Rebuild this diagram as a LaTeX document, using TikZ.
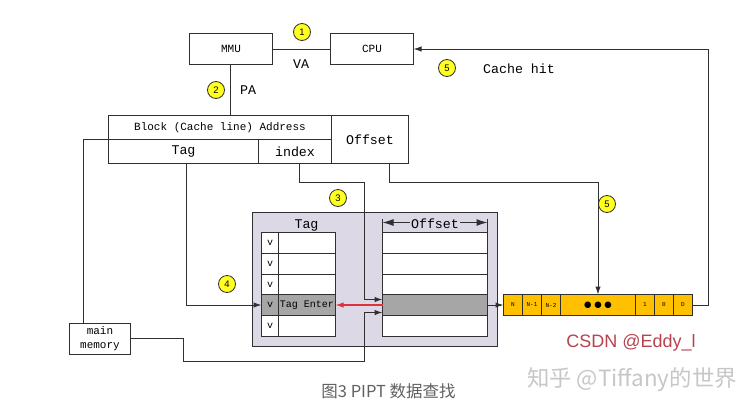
\documentclass[tikz,border=0pt]{standalone}
\usepackage{fontspec}
\setmainfont{Liberation Sans}
\setmonofont{Liberation Mono}
\newfontfamily\cjkfont{Noto Sans CJK SC}
\newfontfamily\dotsfont{DejaVu Sans}
\usetikzlibrary{arrows.meta}
\definecolor{linec}{HTML}{303030}
\definecolor{panelc}{HTML}{DCD8E6}
\definecolor{rowc}{HTML}{A6A6A6}
\definecolor{barc}{HTML}{FFC000}
\definecolor{yel}{HTML}{FFFF20}
\definecolor{redc}{HTML}{E0303A}
\definecolor{csdnc}{HTML}{B8434F}
\tikzset{
  rect/.style={draw=linec,line width=1pt,inner sep=0pt,outer sep=0pt,align=center,font=\ttfamily\fontsize{11}{13}\selectfont},
  cell/.style={rect,fill=white},
  big/.style={font=\ttfamily\fontsize{13.3}{15}\selectfont},
  small/.style={font=\ttfamily\fontsize{10}{12}\selectfont},
  tiny/.style={font=\ttfamily\fontsize{6}{6}\selectfont},
  conn/.style={draw=linec,line width=1pt},
  arr/.style={conn,-{Latex[length=8pt,width=5.5pt]}},
  num/.style={circle,draw=linec,line width=0.8pt,fill=yel,minimum size=17pt,inner sep=0pt,font=\fontsize{9.5}{10}\selectfont},
  lab/.style={inner sep=0pt,font=\ttfamily\fontsize{13.3}{15}\selectfont},
  barcell/.style={rect,fill=barc,tiny},
}
% name, x1, y1, x2, y2, style, text
\newcommand\rectnode[7]{%
  \pgfmathsetmacro\rw{#4-#2}\pgfmathsetmacro\rh{#5-#3}%
  \node[#6,minimum width=\rw pt,minimum height=\rh pt] (#1) at ({(#2+#4)/2},{(#3+#5)/2}) {#7};}
\begin{document}
\begin{tikzpicture}[x=1pt,y=-1pt]
\useasboundingbox (0,0) rectangle (756,413);
\fill[white] (0,0) rectangle (756,413);

% top boxes
\rectnode{mmu}{189.5}{33.5}{272.5}{64.5}{cell}{MMU}
\rectnode{cpu}{330.5}{33.5}{413.5}{64.5}{cell}{CPU}

% address
\rectnode{blk}{108.5}{115.5}{331.5}{139.5}{cell}{Block (Cache line) Address}
\rectnode{tagf}{108.5}{139.5}{258.5}{163.5}{cell,big}{Tag}
\rectnode{idx}{258.5}{139.5}{331.5}{163.5}{cell,big}{index}
\rectnode{off}{331.5}{115.5}{408.5}{163.5}{cell,big}{Offset}

% memory
\rectnode{mem}{69.5}{323.5}{130.5}{354.5}{cell}{main\\[1pt]memory}

% panel
\rectnode{panel}{252.5}{212.5}{497.5}{346.5}{rect,fill=panelc}{}
\node[lab] (tagtitle) at (306.5,225) {Tag};

\rectnode{v1}{261.5}{232.5}{278.5}{253.5}{cell,small}{v}
\rectnode{v2}{261.5}{253.5}{278.5}{274.5}{cell,small}{v}
\rectnode{v3}{261.5}{274.5}{278.5}{294.5}{cell,small}{v}
\rectnode{v4}{261.5}{294.5}{278.5}{315.5}{rect,small,fill=rowc}{v}
\rectnode{v5}{261.5}{315.5}{278.5}{336.5}{cell,small}{v}
\rectnode{t1}{278.5}{232.5}{335.5}{253.5}{cell,small}{}
\rectnode{t2}{278.5}{253.5}{335.5}{274.5}{cell,small}{}
\rectnode{t3}{278.5}{274.5}{335.5}{294.5}{cell,small}{}
\rectnode{t4}{278.5}{294.5}{335.5}{315.5}{rect,small,fill=rowc}{Tag Enter}
\rectnode{t5}{278.5}{315.5}{335.5}{336.5}{cell,small}{}

\rectnode{o1}{382.5}{232.5}{487.5}{253.5}{cell}{}
\rectnode{o2}{382.5}{253.5}{487.5}{274.5}{cell}{}
\rectnode{o3}{382.5}{274.5}{487.5}{294.5}{cell}{}
\rectnode{o4}{382.5}{294.5}{487.5}{315.5}{rect,fill=rowc}{}
\rectnode{o5}{382.5}{315.5}{487.5}{336.5}{cell}{}

% offset dimension
\coordinate (dl) at (382.5,222.5);
\coordinate (dr) at (487.5,222.5);
\draw[conn] (382.5,218.5) -- (o1.north west);
\draw[conn] (487.5,218.5) -- (o1.north east);
\draw[conn,{Latex[length=11pt,width=7pt]}-{Latex[length=11pt,width=7pt]}] (dl) -- (dr);
\node[lab,fill=panelc,inner xsep=1pt] (offtitle) at (435,224) {Offset};

% bar
\rectnode{b1}{503.5}{294.5}{522.5}{315.5}{barcell}{N}
\rectnode{b2}{522.5}{294.5}{541.5}{315.5}{barcell}{N-1}
\rectnode{b3}{541.5}{294.5}{560.5}{315.5}{barcell}{N-2}
\rectnode{b4}{560.5}{294.5}{635.5}{315.5}{rect,fill=barc,font=\dotsfont\fontsize{8.5}{9}\selectfont}{● ● ●}
\rectnode{b5}{635.5}{294.5}{654.5}{315.5}{barcell}{1}
\rectnode{b6}{654.5}{294.5}{673.5}{315.5}{barcell}{0}
\rectnode{b7}{673.5}{294.5}{692.5}{315.5}{barcell}{D}

% connectors
\draw[conn] (mmu.east) -- (cpu.west);
\coordinate (mmuout) at (230.5,115.5);
\draw[conn] (mmuout |- mmu.south) -- (mmuout);
\coordinate (memtap) at (83.5,323.5);
\draw[conn] (blk.south west) -| (memtap);
\coordinate (tagout) at (186.5,163.5);
\draw[arr] (tagout) |- (v4.west);
\coordinate (idxout) at (299.5,163.5);
\coordinate (idxb) at (299.5,182.5);
\coordinate (idxc) at (364.5,182.5);
\coordinate (idxin) at (382.5,299.5);
\draw[arr] (idxout) -- (idxb) -- (idxc) |- (idxin);
\coordinate (offout) at (389.5,163.5);
\coordinate (offb) at (389.5,182.5);
\draw[arr] (offout) -- (offb) -| (b4.north);
\draw[draw=redc,line width=1.2pt,{Latex[length=8pt,width=5.5pt]}-] (t4.east) -- (o4.west);
\draw[arr] (o4.east) -- (b1.west);
\coordinate (rt) at (708.5,305);
\draw[arr] (b7.east) -- (rt) |- (cpu.east);
\coordinate (memin) at (382.5,312.5);
\coordinate (mema) at (183.5,338.5);
\coordinate (memb) at (183.5,361.5);
\coordinate (memc) at (364.5,361.5);
\draw[arr] (mem.east |- mema) -- (mema) -- (memb) -- (memc) |- (memin);

% numbered circles
\node[num] (n1) at (302,32) {1};
\node[num] (n2) at (216,90) {2};
\node[num] (n3) at (338,198) {3};
\node[num] (n4) at (227,284) {4};
\node[num] (n5a) at (447,68) {5};
\node[num] (n5b) at (607,204) {5};

% labels
\node[lab] (va) at (301,64.5) {VA};
\node[lab] (pa) at (248,90) {PA};
\node[lab] (hit) at (519,69) {Cache hit};

\node[inner sep=0pt,text=csdnc,font=\fontsize{18}{21}\selectfont] (csdn) at (631,343) {CSDN @Eddy\_l};
\node[inner sep=0pt,text=black!22,font=\cjkfont\fontsize{22.4}{25}\selectfont] (zhihu) at (632,380) {知乎 @Tiffany的世界};
\node[inner sep=0pt,text=black!62,font=\cjkfont\fontsize{16.5}{18}\selectfont] (cap) at (388.5,391) {图3 PIPT 数据查找};
\end{tikzpicture}
\end{document}
